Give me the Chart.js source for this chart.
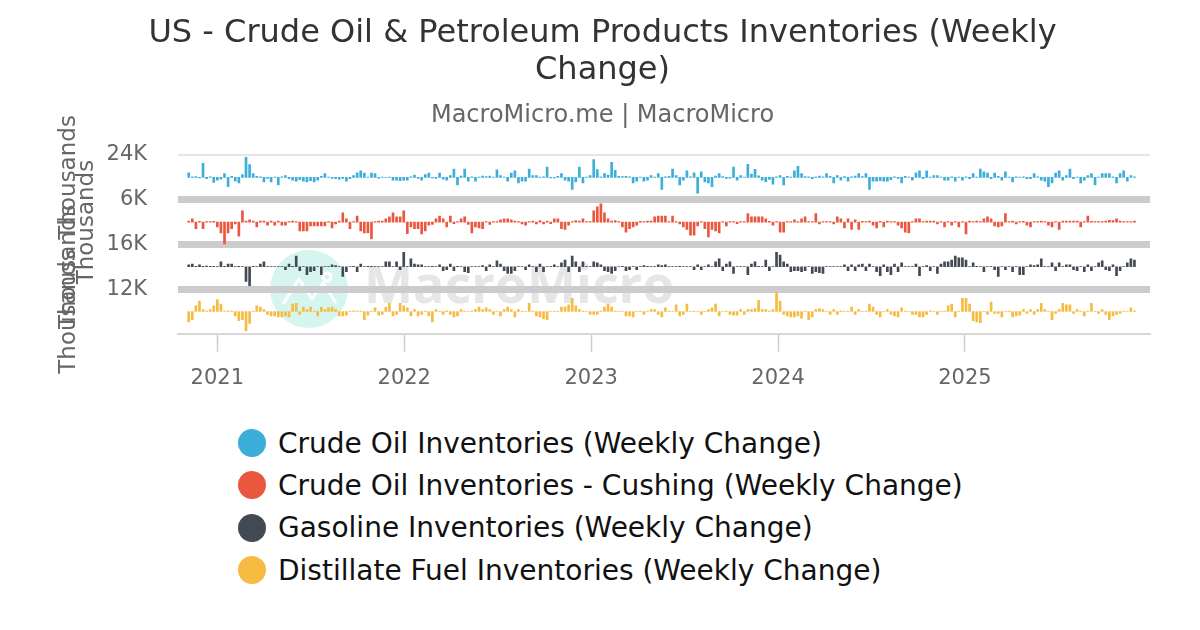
<!DOCTYPE html>
<html>
<head>
<meta charset="utf-8">
<script src="https://cdn.jsdelivr.net/npm/chart.js@4.4.1/dist/chart.umd.min.js"></script>
<style>
  body { margin: 0; background: #fff; font-family: "DejaVu Sans", sans-serif; }
  #wrap { position: relative; width: 1200px; height: 630px; overflow: hidden; }
  #chart { position: absolute; left: 0; top: 0; }
  #legend { position: absolute; left: 238px; top: 422px; }
  .item { display: flex; align-items: center; height: 42.3px; font-size: 28px; color: #111; white-space: nowrap; }
  .dot { width: 28px; height: 28px; border-radius: 50%; margin-right: 12px; flex: none; }
</style>
</head>
<body>
<div id="wrap">
  <canvas id="chart" width="1200" height="416"></canvas>
  <div id="legend"></div>
</div>
<script>
// first week shown (EIA week ending), one value per week after that
const firstWeek = '2020-11-06';
const years = [2021, 2022, 2023, 2024, 2025];
const tickMax = [24, 6, 16, 12];

// weekly changes, thousand barrels
const crude = [
  5, 0.5, 0.8, -0.5, 15, -1.5, 0.5, -5.5, -3, -2,
  4, -10, 1, -4, -6, 3, 21.5, 13.8, 4, 1,
  0.5, -5, -1, -5, 0.3, -8, 0.5, 2, -1.5, -3,
  -4, -2.5, -4, -5, -3.5, -5, -3, 1, 4, 0.2,
  -1, -1.5, -2, -1, -4, -1.5, 2, 5, 7, 4.5,
  0.3, 4.5, 4, -0.8, 0.2, 0.1, 0.3, -3, -3, -3.5,
  -3, -3, 0.5, 2.5, -1, -3, 3, 4.5, -0.5, -1,
  4.5, -2, -3, 2, 9, -8, 1.5, 9, -4, 0.5,
  -4, 0.3, 1.5, 0.8, 1.5, 0.3, 8, 2, 0.3, -4,
  4.5, 7, -6, -4, -4, 9, 2, 2, 0.3, 0.5,
  11, -0.5, -0.5, 1, 4, -3, -4, -13, -5, 11,
  -6, 0.3, 2, 19, 8.4, 0.5, 4, 2.4, 16.3, 7.6,
  1, 0.8, 1.2, 0.5, -6, -4, 0.3, -4, -3, 2,
  0.3, 4, -13, 0.5, 1, 9, 2, -8, -3, 7,
  0.5, 5, -17, 6, -5, -6, -10, 1.5, 4, 0.8,
  -1, -0.8, 11, -3, 2, 0.3, 14, 3.6, 8.7, 1.6,
  -3, -4.6, -2.3, -7.4, 0.5, 2, -8, 1, 0.3, 7,
  12, 4, 0.8, 0.5, -1.5, 0.5, 1.5, 0.5, 4, 1,
  -6, 2, -3, 0.8, -4, 0.5, 1.5, 4, 0.8, 4,
  -13, -4, -4, -3.5, -4, -4, -2.5, 0.5, -1, -6,
  1, 0.3, -3, 5, 7, -1.5, 7, 0.3, 2, 2,
  0.3, -3, -3, 0.5, -4, 0.3, -3, 0.5, -1.5, 4,
  0.3, 9, 6, 4.5, -1.5, 4.5, 1, -3, 6, 0.3,
  -5, 0.5, 0.3, 0.5, -1.5, -1.5, 4, 0.5, -3, -4,
  -10, -6, 4.5, 7, -3, 2, 9, -1.5, 0.3, -6,
  -3, 2, 4, -8, 0.3, 4, 4, 4, 0.5, -6,
  4, 7, -4, 2, 0.5
];

const cushing = [
  0.3, 0.9, -1.8, 0.2, -1.8, 0.1, 0.1, 0.2, -1.3, -2.9,
  -5.9, -2.9, -1.8, -0.5, -3.8, 3.0, 0.3, 0.6, 0.3, -1.3,
  0.3, 0.3, -0.8, 0.3, -0.8, 0.3, -0.8, -0.8, 0.1, 0.3,
  0.1, -2.4, -2.4, -2.4, -1.0, -1.0, -1.0, -1.0, -1.0, 0.1,
  -1.6, -0.5, 0.3, 2.5, 0.9, -1.8, 0.1, 1.6, -2.4, -2.9,
  -2.9, -4.5, 0.1, 0.3, 0.3, 0.9, 1.4, 2.5, 1.4, 1.4,
  3.0, -3.1, -1.3, -1.8, -1.8, -3.2, -2.4, -0.8, -0.6, 0.9,
  1.6, 0.9, -1.3, 1.6, -0.4, 0.1, 0.9, 1.4, -0.6, -2.9,
  -1.3, -1.6, -1.8, 0.1, -0.6, 0.1, 0.1, 0.6, 0.9, 0.9,
  0.6, 0.3, 0.1, -0.5, -0.8, 0.1, 0.3, -0.5, 0.4, -0.5,
  0.3, -0.4, 0.9, 0.9, -1.8, -2.0, -0.8, 0.1, 0.4, 0.3,
  0.9, 0.1, 0.1, 3.0, 4.1, 4.9, 2.5, 0.9, 0.3, 0.4,
  0.1, -1.3, -2.7, -1.8, -1.3, -0.8, 0.2, 0.1, 0.3, 0.3,
  1.4, 1.6, 1.6, 1.6, 0.1, 1.6, 0.1, -0.5, -1.3, -2.0,
  -3.5, -3.5, -1.0, 0.1, -1.8, -4.0, -2.0, -2.4, -2.9, 0.1,
  -1.0, 0.1, 0.1, -0.4, 0.1, 0.1, 2.3, 1.4, 1.4, 1.4,
  1.4, 0.9, 0.2, -0.8, 0.1, -2.7, -2.7, 0.1, 0.1, 0.6,
  0.1, 0.9, 1.4, 0.1, 0.1, 2.3, -0.5, 0.1, 0.1, 0.1,
  -0.5, 1.4, 0.9, -1.6, 0.9, -2.0, 0.6, -2.0, 0.2, 0.1,
  0.3, -0.8, -1.6, 0.2, -1.3, 0.3, 0.1, 0.1, -0.8, -1.6,
  -2.7, -2.9, 0.1, 0.9, 0.9, 0.1, 0.3, 0.3, 0.3, -0.5,
  0.1, -1.3, 0.1, -0.8, 0.1, -1.3, 0.1, -3.2, 0.3, 0.1,
  0.3, 0.1, 0.9, 1.4, 0.9, -1.0, -1.3, -1.0, 2.3, 0.1,
  0.3, -0.5, 0.1, 0.2, -0.8, -1.3, 0.1, 0.1, 0.3, 0.1,
  -0.8, -1.3, 0.1, -2.0, 0.3, 0.3, 0.3, 0.3, 0.3, -1.3,
  0.1, 1.6, 0.2, 0.1, 0.1, 0.1, 0.3, 0.5, 0.4, 0.9,
  0.3, 0.1, 0.1, 0.1, 0.3
];

const gasoline = [
  1.4, 2.0, 0.3, 1.4, 0.4, 0.5, 0.3, 0.4, 0.2, 3.6,
  0.3, 2.0, 2.0, 0.2, 0.3, 0.2, -10.5, -13.6, 0.3, 0.2,
  2.0, 3.6, 0.1, 0.1, 0.2, 0.2, 0.1, -2.0, 2.0, 0.3,
  7.6, -2.8, 0.2, -5.6, -3.6, -2.8, 0.2, -5.6, 0.2, 0.2,
  1.4, 0.8, 0.2, -7.0, -3.6, 0.2, 0.3, -3.6, 2.0, 0.2,
  0.3, 0.3, 0.1, 0.1, 0.1, 3.6, 3.6, 0.1, 3.6, -2.0,
  10.4, 0.2, 5.6, 2.0, 1.4, 1.4, 0.2, 0.1, 0.3, 0.2,
  1.4, -2.8, -2.0, 2.0, -2.8, 0.3, 0.1, -3.6, -4.2, 0.2,
  0.1, 0.2, 0.8, -2.8, 1.4, 0.1, 4.2, 2.0, -2.8, -4.8,
  -4.8, -2.8, 0.1, 0.2, -2.0, 1.4, 0.1, -3.6, 2.0, -3.6,
  0.1, 0.2, 1.4, 0.1, 2.8, 4.8, -3.6, 7.6, 3.6, -3.6,
  3.6, 0.1, 0.2, 3.6, 2.8, 1.4, -2.8, -3.6, -4.8, -2.8,
  0.1, 0.3, -2.8, -2.0, 0.1, -2.0, 0.1, 0.8, 0.3, 0.2,
  0.1, 1.4, 0.8, 1.4, 0.1, 0.2, 0.1, 0.3, 0.1, 0.2,
  0.1, -2.0, 1.4, -2.0, 0.1, 1.4, 0.2, 3.6, 5.6, -2.8,
  2.0, 3.6, -4.8, 0.1, 0.2, 0.1, -5.6, 2.0, 3.6, 0.3,
  0.1, 4.8, -2.8, 0.1, 10.4, 8.4, 3.6, 2.0, -3.6, -2.8,
  -2.8, -3.6, -2.8, 0.1, -4.8, -3.6, -4.2, -4.8, 0.1, 0.2,
  0.2, 0.1, 0.1, 1.4, -2.8, 1.4, -2.8, 1.4, 2.0, -2.8,
  2.0, 0.1, -3.6, -6.4, 1.4, -3.6, -5.6, 2.0, -3.6, 2.8,
  0.2, 0.1, 0.2, 2.0, -6.4, 0.1, 0.8, -2.8, 0.1, -4.8,
  2.0, 3.6, 3.6, 4.8, 7.6, 6.4, 6.4, 4.8, 0.2, 2.8,
  0.3, 0.1, -3.6, 0.1, 0.2, -2.0, -7.0, 0.1, -2.0, 0.2,
  -3.6, 0.1, -5.6, -5.6, 0.2, 1.4, 0.8, 1.4, 5.6, 0.1,
  0.2, 2.8, -2.8, 2.8, 0.1, 1.4, 1.4, -2.0, -2.8, 0.1,
  -3.6, 1.4, -2.8, 0.2, 2.8, 4.2, -2.0, -2.8, 1.4, -6.4,
  -2.8, 0.1, 2.8, 5.6, 4.8
];

const distillate = [
  -5.6, -4.4, 3.0, 5.6, 1.0, 0.2, 1.0, 3.0, 6.4, 4.0,
  0.2, 0.3, 0.2, -2.4, -5.0, -4.4, -10.4, -6.4, 0.2, 3.0,
  2.4, 1.0, -1.6, -2.4, -2.4, -3.0, -3.0, -2.4, -3.0, 4.0,
  4.4, -1.6, 2.4, 1.0, 2.4, 0.2, -2.4, 2.4, 1.0, 2.0,
  2.4, 1.0, -2.4, -2.4, -2.0, 0.2, 0.3, 0.2, 0.2, -4.4,
  -2.0, 0.2, 2.0, -2.0, -1.6, 2.4, 4.4, -2.4, -1.6, 4.4,
  3.0, 2.0, -2.4, 1.0, -2.4, -1.6, 0.2, -2.4, -5.6, 1.0,
  0.2, -1.6, 0.4, -1.6, -3.0, -2.4, 1.0, 0.2, 0.1, 0.2,
  1.0, 2.4, 1.0, 2.0, 1.0, -1.6, 0.2, -2.4, 1.0, 2.4,
  1.0, -3.0, 1.0, 0.2, 0.1, 4.4, 0.2, -2.4, -3.0, -4.0,
  -4.4, 0.1, 0.2, 0.1, 2.4, 2.4, 3.6, 7.0, 3.0, 1.0,
  0.2, 0.1, -1.6, -1.6, -1.6, 0.2, 2.4, 4.0, 2.4, 0.2,
  0.1, 0.1, -2.4, -2.4, -3.0, 0.1, 0.2, -1.6, 0.1, 1.0,
  1.0, -1.6, -3.0, 2.0, 0.2, 0.1, 3.6, -2.4, -1.6, 4.0,
  0.1, 0.2, 0.1, -1.6, 0.1, 1.0, 2.0, 4.0, -2.4, 0.1,
  0.2, -1.6, -2.0, -2.0, 1.0, -1.6, 1.0, 1.0, 1.6, 6.0,
  1.0, 1.0, 0.2, 1.0, 10.4, 5.6, -1.6, -2.4, -3.0, -3.0,
  -2.4, -3.6, 0.2, -4.4, -3.0, 1.0, 1.6, 1.0, 0.1, -1.6,
  1.0, -1.6, 0.4, 0.1, 0.2, 2.4, -1.6, 1.0, 0.1, 0.2,
  4.0, 2.4, -1.6, -3.0, 0.1, 1.0, -1.6, -2.4, -3.0, 2.0,
  0.2, 0.1, -1.6, -1.6, -3.0, -3.0, -1.6, 0.4, 0.1, -1.6,
  0.1, 0.2, 3.0, 4.0, -3.0, 0.2, 7.0, 7.0, 4.0, -5.0,
  -5.6, -6.0, 0.1, -1.6, 5.0, -1.0, -1.0, -3.0, 0.1, 0.2,
  -3.0, -2.4, -2.0, 1.0, -1.0, 1.0, -1.6, 1.0, 4.4, 1.0,
  0.1, -4.4, -1.0, 1.0, 4.4, 3.6, 3.6, -1.0, 1.0, 0.2,
  -2.4, 0.2, 4.4, 0.1, -1.0, 1.0, -1.6, -4.4, -2.4, -1.6,
  -1.0, 0.2, 0.1, 2.0, 0.3
];

// week ending dates -> fractional year on the x axis
const start = new Date(firstWeek + 'T00:00:00Z').getTime();
const weekX = crude.map((_, i) => {
  const d = new Date(start + i * 7 * 86400000);
  const y = d.getUTCFullYear();
  const y0 = Date.UTC(y, 0, 1), y1 = Date.UTC(y + 1, 0, 1);
  return y + (d.getTime() - y0) / (y1 - y0);
});
const pts = arr => arr.map((v, i) => ({ x: weekX[i], y: v }));

Chart.defaults.font.family = '"DejaVu Sans", sans-serif';

function panelAxis(max, top, titlePad) {
  return {
    type: 'linear',
    position: 'left',
    stack: 'panels',
    stackWeight: 1,
    min: -max,
    max: max,
    afterBuildTicks: s => { s.ticks = [{ value: max }]; },
    ticks: { callback: v => v + 'K', color: '#666', font: { size: 21 }, padding: 31 },
    grid: { color: top ? '#e6e6e6' : '#cccccc', lineWidth: top ? 2 : 7, drawTicks: false },
    border: { display: false },
    title: { display: true, text: 'Thousands', color: '#666', font: { size: 23 }, padding: titlePad }
  };
}

const watermark = {
  id: 'watermark',
  beforeDraw(chart) {
    const ctx = chart.ctx;
    ctx.save();
    ctx.fillStyle = '#d6f5ef';
    ctx.beginPath();
    ctx.arc(309, 289, 39, 0, Math.PI * 2);
    ctx.fill();
    ctx.strokeStyle = '#ffffff';
    ctx.lineWidth = 3;
    ctx.lineJoin = 'round';
    ctx.beginPath();
    ctx.moveTo(283, 304);
    ctx.lineTo(299, 279);
    ctx.lineTo(312, 299);
    ctx.lineTo(323, 283);
    ctx.lineTo(336, 303);
    ctx.stroke();
    ctx.beginPath();
    ctx.arc(327, 277, 4, 0, Math.PI * 2);
    ctx.stroke();
    ctx.fillStyle = '#e6e6e6';
    ctx.font = 'bold 52px "Open Sans"';
    ctx.textBaseline = 'middle';
    ctx.fillText('MacroMicro', 364, 288);
    ctx.restore();
  }
};

const htmlLegend = {
  id: 'htmlLegend',
  afterUpdate(chart) {
    const box = document.getElementById('legend');
    box.innerHTML = '';
    chart.data.datasets.forEach(ds => {
      const row = document.createElement('div');
      row.className = 'item';
      const dot = document.createElement('span');
      dot.className = 'dot';
      dot.style.background = ds.backgroundColor;
      row.appendChild(dot);
      row.appendChild(document.createTextNode(ds.label));
      box.appendChild(row);
    });
  }
};

const bar = (label, data, color, axis) => ({
  label, data: pts(data), yAxisID: axis,
  backgroundColor: color, barThickness: 2, grouped: false
});

new Chart(document.getElementById('chart'), {
  type: 'bar',
  data: {
    datasets: [
      bar('Crude Oil Inventories (Weekly Change)', crude, '#3BAFDA', 'y1'),
      bar('Crude Oil Inventories - Cushing (Weekly Change)', cushing, '#E9573F', 'y2'),
      bar('Gasoline Inventories (Weekly Change)', gasoline, '#434A54', 'y3'),
      bar('Distillate Fuel Inventories (Weekly Change)', distillate, '#F6BB42', 'y4')
    ]
  },
  options: {
    responsive: false,
    animation: false,
    layout: { padding: { left: 55, right: 50, top: 0, bottom: 11 } },
    plugins: {
      legend: { display: false },
      tooltip: { enabled: false },
      title: {
        display: true,
        text: ['US - Crude Oil & Petroleum Products Inventories (Weekly', 'Change)'],
        color: '#333',
        font: { size: 32, weight: 'normal', lineHeight: 1.16 },
        padding: { top: 15, bottom: 12 }
      },
      subtitle: {
        display: true,
        text: 'MacroMicro.me | MacroMicro',
        color: '#666',
        font: { size: 24, lineHeight: 1.2 },
        padding: { top: 0, bottom: 25 }
      }
    },
    scales: {
      x: {
        type: 'linear',
        min: 2020.79,
        max: 2025.99,
        offset: false,
        afterBuildTicks: s => { s.ticks = years.map(v => ({ value: v })); },
        ticks: { callback: v => String(v), color: '#666', font: { size: 21 }, padding: 14, maxRotation: 0 },
        grid: { offset: false, drawOnChartArea: false, color: '#cccccc', tickLength: 18, tickWidth: 1.5 },
        border: { color: '#d8d8d8', width: 2 }
      },
      y4: panelAxis(tickMax[3], false, { top: 0, bottom: -7 }),
      y3: panelAxis(tickMax[2], false, { top: 0, bottom: -7 }),
      y2: panelAxis(tickMax[1], false, { top: 18, bottom: -12 }),
      y1: panelAxis(tickMax[0], true, { top: 0, bottom: -7 })
    }
  },
  plugins: [watermark, htmlLegend]
});
</script>
</body>
</html>
